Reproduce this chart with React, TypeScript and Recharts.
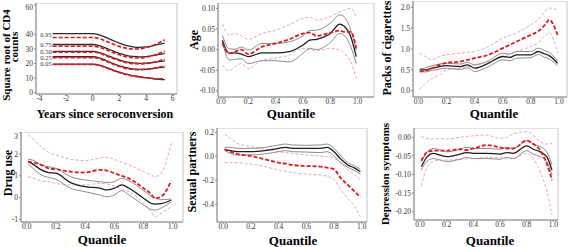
import React from 'react';
import { LineChart, Line, XAxis, YAxis, ReferenceArea, ReferenceDot, ReferenceLine } from 'recharts';

// ---- CD4 panel (years since seroconversion) ----
const years = [-3, -2, -1, 0, 0.5, 1, 1.5, 2, 2.5, 3, 3.5, 4, 4.5, 5, 5.4];
const cd4Levels = ['0.95', '0.75', '0.50', '0.25', '0.05'];
const cd4LabelY = [39.7, 32.8, 28.4, 24, 19.8];
const cd4Black = [
  [40.5, 40.5, 40.5, 40.5, 39.6, 37.8, 35.8, 33.9, 32.4, 31.4, 31, 31.3, 32.1, 33.2, 34],
  [33, 33, 33, 33, 32.2, 30.5, 28.6, 26.9, 25.6, 24.8, 24.5, 24.7, 25.3, 26.2, 27],
  [28.3, 28.3, 28.3, 28.3, 27.5, 25.8, 24, 22.4, 21.1, 20.4, 20.1, 20.2, 20.6, 21.3, 21.9],
  [24.6, 24.6, 24.6, 24.6, 23.8, 22, 20.1, 18.4, 17.1, 16.3, 16, 16.1, 16.5, 17.1, 17.6],
  [19.6, 19.6, 19.6, 19.6, 18.9, 17.3, 15.6, 14, 12.7, 11.7, 10.9, 10.3, 9.7, 9.2, 8.9],
];
const cd4Red = [
  [37.8, 37.8, 37.8, 37.8, 37, 35.3, 33.4, 31.7, 30.5, 29.9, 30, 30.8, 32.3, 34.3, 36.2],
  [31.8, 31.8, 31.8, 31.8, 31, 29.4, 27.5, 25.9, 24.6, 23.9, 23.7, 24.3, 25.4, 27, 28.6],
  [27.8, 27.8, 27.8, 27.8, 27, 25.3, 23.5, 21.9, 20.6, 19.9, 19.7, 20, 20.8, 21.9, 23],
  [24, 24, 24, 24, 23.2, 21.5, 19.6, 17.9, 16.6, 15.9, 15.7, 15.9, 16.6, 17.6, 18.5],
  [19.3, 19.3, 19.3, 19.3, 18.6, 17, 15.3, 13.7, 12.4, 11.4, 10.7, 10.1, 9.7, 9.5, 9.5],
];

// ---- Age ----
const ageQ = [0.01, 0.06, 0.1, 0.15, 0.2, 0.3, 0.4, 0.5, 0.6, 0.65, 0.7, 0.8, 0.87, 0.9, 0.95, 0.99];
const ageMid = [0.023, -0.009, -0.008, -0.011, -0.017, -0.008, -0.008, -0.005, 0.011, 0.023, 0.025, 0.039, 0.062, 0.057, 0.031, -0.017];
const ageHi = [0.035, 0.002, 0.001, 0.006, -0.001, 0.015, 0.015, 0.019, 0.033, 0.046, 0.047, 0.064, 0.084, 0.08, 0.047, -0.001];
const ageLo = [0.02, -0.025, -0.024, -0.022, -0.034, -0.027, -0.027, -0.03, -0.009, 0.003, 0, 0.017, 0.039, 0.035, 0.007, -0.034];
const ageRed = [0.015, -0.009, -0.005, 0, -0.011, 0.007, 0.015, 0.025, 0.039, 0.041, 0.033, 0.041, 0.046, 0.043, 0.043, 0.003];
const ageRedHi = [0.062, 0.035, 0.039, 0.033, 0.025, 0.039, 0.047, 0.06, 0.076, 0.078, 0.072, 0.08, 0.092, 0.096, 0.1, 0.08];
const ageRedLo = [-0.038, -0.051, -0.042, -0.034, -0.046, -0.026, -0.021, -0.013, 0.003, 0, -0.003, 0.003, -0.001, -0.009, -0.03, -0.07];

// ---- Packs of cigarettes ----
const packQ = [0.01, 0.05, 0.1, 0.15, 0.2, 0.3, 0.35, 0.4, 0.5, 0.6, 0.65, 0.7, 0.8, 0.85, 0.9, 0.93, 0.99];
const packMid = [0.5, 0.5, 0.54, 0.58, 0.6, 0.58, 0.62, 0.54, 0.66, 0.82, 0.8, 0.86, 0.86, 0.94, 0.88, 0.84, 0.66];
const packHi = [0.52, 0.55, 0.6, 0.64, 0.66, 0.64, 0.68, 0.62, 0.72, 0.9, 0.88, 0.94, 0.94, 1.02, 0.96, 0.92, 0.72];
const packLo = [0.47, 0.45, 0.49, 0.52, 0.54, 0.51, 0.55, 0.46, 0.58, 0.74, 0.72, 0.78, 0.79, 0.87, 0.8, 0.76, 0.6];
const packRed = [0.46, 0.48, 0.54, 0.62, 0.67, 0.7, 0.74, 0.78, 0.86, 1.02, 1.1, 1.18, 1.34, 1.42, 1.58, 1.7, 1.34];
const packRedHi = [0.9, 0.82, 0.74, 0.82, 0.86, 0.9, 0.92, 0.94, 1.06, 1.26, 1.32, 1.39, 1.58, 1.7, 1.9, 1.98, 1.94];
const packRedLo = [0.03, 0.18, 0.3, 0.38, 0.5, 0.54, 0.58, 0.62, 0.7, 0.82, 0.88, 0.94, 1.06, 1.14, 1.3, 1.39, 0.9];

// ---- Drug use ----
const drugQ = [0.01, 0.05, 0.1, 0.15, 0.2, 0.3, 0.4, 0.5, 0.55, 0.6, 0.65, 0.7, 0.8, 0.85, 0.88, 0.92, 0.99];
const drugMid = [1.65, 1.5, 1.27, 1.15, 1.12, 0.69, 0.5, 0.43, 0.35, 0.43, 0.58, 0.43, -0.03, -0.26, -0.3, -0.28, -0.11];
const drugHi = [1.76, 1.7, 1.5, 1.42, 1.34, 0.96, 0.81, 0.73, 0.69, 0.73, 0.88, 0.77, 0.32, 0.07, -0.02, -0.1, -0.06];
const drugLo = [1.54, 1.3, 1.04, 0.93, 0.84, 0.43, 0.27, 0.12, 0.04, 0.12, 0.32, 0.12, -0.34, -0.54, -0.57, -0.48, -0.19];
const drugRed = [1.65, 1.6, 1.5, 1.34, 1.3, 1.19, 1.15, 1.27, 1.24, 1.12, 1.0, 0.88, 0.43, 0.17, -0.03, 0.04, 0.78];
const drugRedHi = [2.88, 2.65, 2.34, 2.07, 1.96, 1.76, 1.7, 1.81, 1.85, 1.76, 1.62, 1.5, 1.19, 1.04, 0.96, 1.12, 2.49];
const drugRedLo = [0.96, 0.88, 0.77, 0.73, 0.65, 0.58, 0.58, 0.65, 0.62, 0.53, 0.4, 0.27, -0.26, -0.65, -0.88, -0.72, -0.42];

// ---- Sexual partners ----
const sexQ = [0.01, 0.05, 0.1, 0.2, 0.3, 0.4, 0.45, 0.5, 0.6, 0.7, 0.75, 0.8, 0.85, 0.9, 0.95, 0.99];
const sexMid = [0.058, 0.047, 0.038, 0.038, 0.047, 0.066, 0.074, 0.066, 0.066, 0.066, 0.074, 0.038, -0.026, -0.073, -0.1, -0.13];
const sexHi = [0.074, 0.074, 0.066, 0.066, 0.074, 0.094, 0.102, 0.094, 0.091, 0.094, 0.102, 0.066, 0.002, -0.054, -0.082, -0.11];
const sexLo = [0.047, 0.024, 0.01, 0.01, 0.019, 0.038, 0.047, 0.038, 0.035, 0.03, 0.038, 0.002, -0.054, -0.093, -0.121, -0.149];
const sexRed = [0.058, 0.038, 0.019, 0.002, -0.026, -0.054, -0.062, -0.073, -0.082, -0.087, -0.095, -0.11, -0.185, -0.24, -0.296, -0.344];
const sexRedHi = [0.186, 0.15, 0.108, 0.08, 0.058, 0.038, 0.031, 0.024, 0.01, 0.002, -0.005, -0.018, -0.059, -0.115, -0.157, -0.199];
const sexRedLo = [-0.054, -0.054, -0.054, -0.065, -0.087, -0.115, -0.126, -0.137, -0.149, -0.157, -0.168, -0.193, -0.282, -0.352, -0.422, -0.506];

// ---- Depression symptoms ----
const depQ = [0.01, 0.05, 0.1, 0.15, 0.2, 0.3, 0.35, 0.4, 0.5, 0.6, 0.65, 0.7, 0.8, 0.85, 0.9, 0.95, 0.99];
const depMid = [-0.079, -0.054, -0.043, -0.048, -0.052, -0.045, -0.041, -0.043, -0.043, -0.045, -0.041, -0.043, -0.023, -0.032, -0.039, -0.052, -0.088];
const depHi = [-0.065, -0.041, -0.03, -0.034, -0.039, -0.032, -0.027, -0.03, -0.03, -0.032, -0.027, -0.03, -0.009, -0.018, -0.025, -0.039, -0.074];
const depLo = [-0.088, -0.065, -0.057, -0.061, -0.065, -0.059, -0.054, -0.057, -0.057, -0.059, -0.054, -0.057, -0.036, -0.045, -0.052, -0.065, -0.101];
const depRed = [-0.063, -0.041, -0.036, -0.036, -0.036, -0.032, -0.034, -0.03, -0.021, -0.027, -0.03, -0.03, -0.009, -0.018, -0.034, -0.07, -0.115];
const depRedHi = [0.002, -0.003, -0.005, -0.003, -0.005, 0, 0.002, 0.004, 0.006, -0.003, 0, 0.009, 0.015, 0.006, -0.012, -0.018, -0.016];
const depRedLo = [-0.131, -0.083, -0.065, -0.061, -0.061, -0.059, -0.058, -0.057, -0.054, -0.054, -0.058, -0.057, -0.043, -0.057, -0.092, -0.142, -0.209];

const quantileTicks = [0, 0.2, 0.4, 0.6, 0.8, 1];

const SERIF = 'Liberation Serif, Times New Roman, serif';
const tickStyle = { fontSize: 7.5, fill: '#333', fontFamily: SERIF };
const AXW = 30;
const AXH = 13;
const BOX = '#c4c4c4';
const AXIS = '#8a8a8a';

function QuantilePanel({ box, xDomain, yDomain, yTicks, yFmt, q, mid, hi, lo, red, redHi, redLo }: any) {
    const data = q.map((x: number, i: number) => ({
        x, mid: mid[i], hi: hi[i], lo: lo[i], red: red[i], redHi: redHi[i], redLo: redLo[i],
    }));
    const w = box.r - box.l;
    const h = box.b - box.t;
    return (
        <div style={{ position: 'absolute', left: box.l - AXW, top: box.t }}>
            <LineChart width={w + AXW + 1} height={h + AXH} data={data} margin={{ top: 0, right: 1, bottom: 0, left: 0 }}>
                <XAxis type="number" dataKey="x" domain={xDomain} ticks={quantileTicks} allowDataOverflow
                    height={AXH} tickSize={2} tickMargin={0} tick={tickStyle} stroke={AXIS}
                    tickFormatter={(v: number) => v.toFixed(1)} />
                <YAxis type="number" domain={yDomain} ticks={yTicks} allowDataOverflow width={AXW}
                    tickSize={2} tickMargin={1} tick={tickStyle} stroke={AXIS} tickFormatter={yFmt} />
                <ReferenceArea x1={xDomain[0]} x2={xDomain[1]} y1={yDomain[0]} y2={yDomain[1]} fill="none" stroke={BOX} />
                <Line type="monotone" dataKey="redHi" stroke="#f6a3a3" strokeWidth={1} strokeDasharray="3 2" dot={false} isAnimationActive={false} />
                <Line type="monotone" dataKey="redLo" stroke="#f6a3a3" strokeWidth={1} strokeDasharray="3 2" dot={false} isAnimationActive={false} />
                <Line type="monotone" dataKey="hi" stroke="#8c8c8c" strokeWidth={1} dot={false} isAnimationActive={false} />
                <Line type="monotone" dataKey="lo" stroke="#8c8c8c" strokeWidth={1} dot={false} isAnimationActive={false} />
                <Line type="monotone" dataKey="mid" stroke="#1c1c1c" strokeWidth={1.3} dot={false} isAnimationActive={false} />
                <Line type="monotone" dataKey="red" stroke="#e5161c" strokeWidth={1.8} strokeDasharray="4 2" dot={false} isAnimationActive={false} />
            </LineChart>
        </div>
    );
}

function Cd4Panel() {
    const box = { l: 36, t: 3, r: 177, b: 94 };
    const xDomain = [-4.25, 6.32];
    const yDomain = [-0.9, 61.4];
    const data = years.map((x, i) => {
        const row: any = { x };
        cd4Levels.forEach((_, k) => {
            row['b' + k] = cd4Black[k][i];
            row['r' + k] = cd4Red[k][i];
        });
        return row;
    });
    return (
        <div style={{ position: 'absolute', left: box.l - AXW, top: box.t }}>
            <LineChart width={box.r - box.l + AXW + 1} height={box.b - box.t + AXH} data={data} margin={{ top: 0, right: 1, bottom: 0, left: 0 }}>
                <XAxis type="number" dataKey="x" domain={xDomain} ticks={[-4, -2, 0, 2, 4, 6]} allowDataOverflow
                    height={AXH} tickSize={2} tickMargin={0} tick={tickStyle} stroke={AXIS} />
                <YAxis type="number" domain={yDomain} ticks={[0, 10, 20, 30, 40, 50, 60]} allowDataOverflow width={AXW}
                    tickSize={2} tickMargin={1} tick={tickStyle} stroke={AXIS} />
                <ReferenceArea x1={xDomain[0]} x2={xDomain[1]} y1={yDomain[0]} y2={yDomain[1]} fill="none" stroke={BOX} />
                <ReferenceLine segment={[{ x: 0, y: 19 }, { x: 0, y: 41 }]} stroke="#c8c8c8" strokeDasharray="1 1" />
                {cd4Levels.map((_, k) => (
                    <Line key={'b' + k} type="monotone" dataKey={'b' + k} stroke="#2a2a2a" strokeWidth={1.3} dot={false} isAnimationActive={false} />
                ))}
                {cd4Levels.map((_, k) => (
                    <Line key={'r' + k} type="monotone" dataKey={'r' + k} stroke="#e5161c" strokeWidth={1.6} strokeDasharray="4 2" dot={false} isAnimationActive={false} />
                ))}
                {cd4Levels.map((lab, k) => (
                    <ReferenceDot key={lab} x={years[0]} y={cd4LabelY[k]} r={0} fill="none" stroke="none"
                        label={{ value: lab, position: 'left', offset: 1, fontSize: 6.5, fill: '#333', fontFamily: SERIF }} />
                ))}
            </LineChart>
        </div>
    );
}

const lbl = { fontFamily: SERIF, fontWeight: 'bold' as const, fill: '#000' };

export default function App() {
    return (
        <div style={{ position: 'absolute', left: 0, top: 0, width: 568, height: 247, background: '#fff', overflow: 'hidden' }}>
            <Cd4Panel />
            <QuantilePanel box={{ l: 218, t: 3, r: 374, b: 97 }} xDomain={[-0.022, 1.12]} yDomain={[-0.115, 0.113]}
                yTicks={[-0.1, -0.05, 0, 0.05, 0.1]} yFmt={(v: number) => v.toFixed(2)}
                q={ageQ} mid={ageMid} hi={ageHi} lo={ageLo} red={ageRed} redHi={ageRedHi} redLo={ageRedLo} />
            <QuantilePanel box={{ l: 413, t: 1, r: 567, b: 97 }} xDomain={[-0.038, 1.057]} yDomain={[-0.15, 2.15]}
                yTicks={[0, 0.5, 1, 1.5, 2]} yFmt={(v: number) => v.toFixed(1)}
                q={packQ} mid={packMid} hi={packHi} lo={packLo} red={packRed} redHi={packRedHi} redLo={packRedLo} />
            <QuantilePanel box={{ l: 21, t: 132, r: 183, b: 222 }} xDomain={[-0.039, 1.07]} yDomain={[-1.12, 3.01]}
                yTicks={[-1, 0, 1, 2, 3]} yFmt={(v: number) => String(v)}
                q={drugQ} mid={drugMid} hi={drugHi} lo={drugLo} red={drugRed} redHi={drugRedHi} redLo={drugRedLo} />
            <QuantilePanel box={{ l: 217, t: 128, r: 367, b: 222 }} xDomain={[-0.045, 1.038]} yDomain={[-0.55, 0.236]}
                yTicks={[-0.5, -0.4, -0.3, -0.2, -0.1, 0, 0.1, 0.2]} yFmt={(v: number) => v.toFixed(1)}
                q={sexQ} mid={sexMid} hi={sexHi} lo={sexLo} red={sexRed} redHi={sexRedHi} redLo={sexRedLo} />
            <QuantilePanel box={{ l: 414, t: 128, r: 558, b: 220 }} xDomain={[-0.045, 1.035]} yDomain={[-0.222, 0.025]}
                yTicks={[-0.2, -0.15, -0.1, -0.05, 0]} yFmt={(v: number) => v.toFixed(2)}
                q={depQ} mid={depMid} hi={depHi} lo={depLo} red={depRed} redHi={depRedHi} redLo={depRedLo} />
            <svg width={568} height={247} style={{ position: 'absolute', left: 0, top: 0, pointerEvents: 'none' }}>
                <text {...lbl} fontSize={11} textAnchor="middle" transform="translate(10,55) rotate(-90)">Square root of CD4</text>
                <text {...lbl} fontSize={11} textAnchor="middle" transform="translate(18,47) rotate(-90)">counts</text>
                <text {...lbl} fontSize={12} textAnchor="middle" x={105} y={118}>Years since seroconversion</text>
                <text {...lbl} fontSize={12} textAnchor="middle" transform="translate(198,40) rotate(-90)">Age</text>
                <text {...lbl} fontSize={13} textAnchor="middle" x={291} y={118}>Quantile</text>
                <text {...lbl} fontSize={12} textAnchor="middle" transform="translate(391,48) rotate(-90)">Packs of cigarettes</text>
                <text {...lbl} fontSize={13} textAnchor="middle" x={494} y={118}>Quantile</text>
                <text {...lbl} fontSize={12} textAnchor="middle" transform="translate(12,173) rotate(-90)">Drug use</text>
                <text {...lbl} fontSize={13} textAnchor="middle" x={102} y={244}>Quantile</text>
                <text {...lbl} fontSize={12} textAnchor="middle" transform="translate(196,172) rotate(-90)">Sexual partners</text>
                <text {...lbl} fontSize={13} textAnchor="middle" x={293} y={245}>Quantile</text>
                <text {...lbl} fontSize={11} textAnchor="middle" transform="translate(389,174) rotate(-90)">Depression symptoms</text>
                <text {...lbl} fontSize={13} textAnchor="middle" x={490} y={245}>Quantile</text>
            </svg>
        </div>
    );
}
